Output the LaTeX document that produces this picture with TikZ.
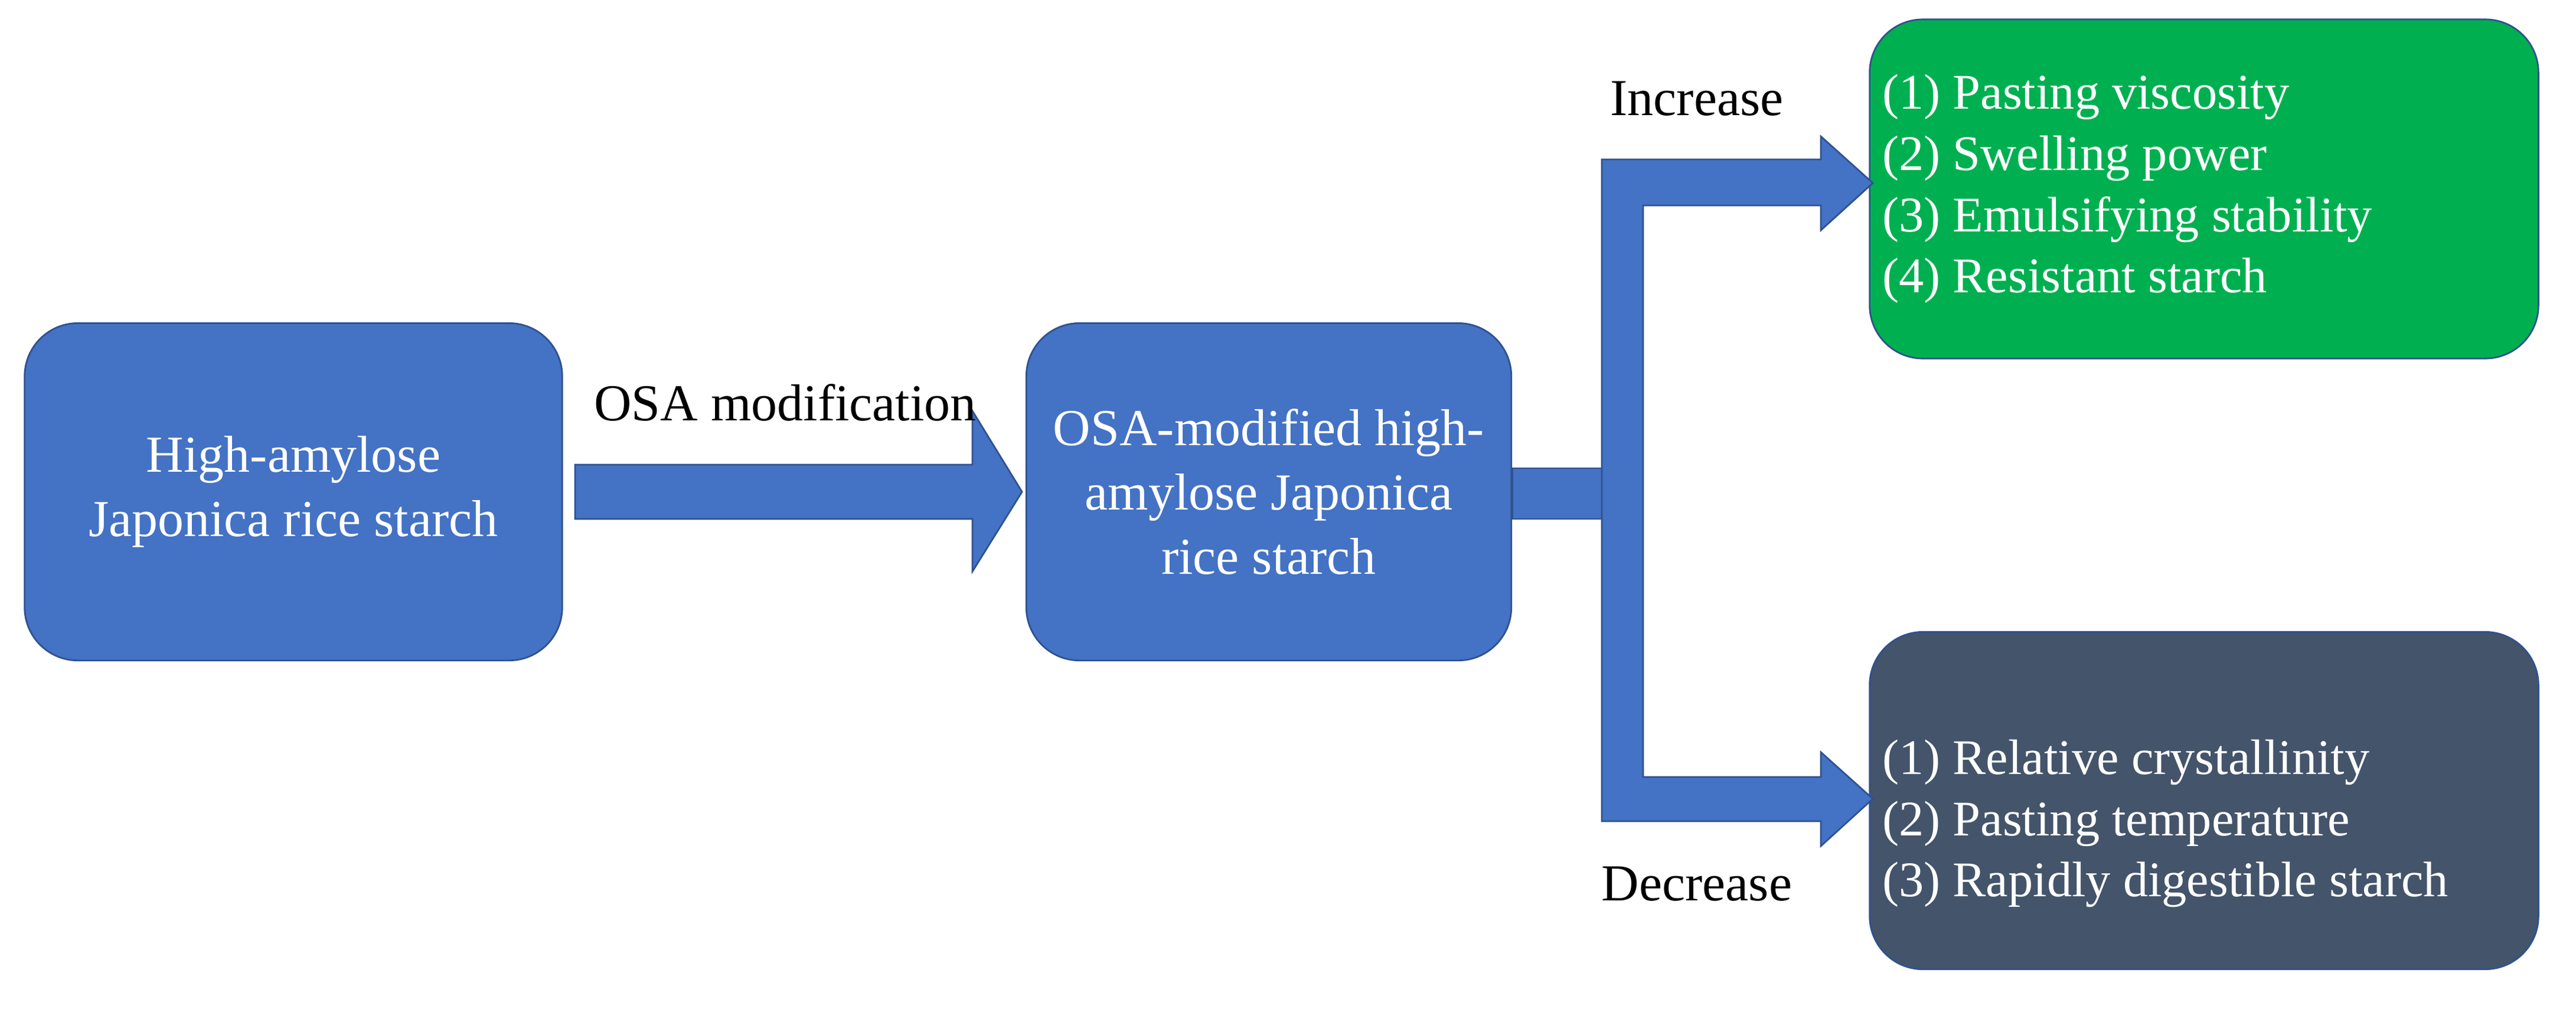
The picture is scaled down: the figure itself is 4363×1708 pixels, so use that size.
\documentclass[tikz,border=0pt]{standalone}
\usepackage{fontspec}
\setmainfont{Liberation Serif}
\usetikzlibrary{positioning}
\definecolor{boxblue}{HTML}{4472C4}
\definecolor{edgeblue}{HTML}{2F528F}
\definecolor{incgreen}{HTML}{00B050}
\definecolor{decgray}{HTML}{44546A}
\begin{document}
\begin{tikzpicture}[x=0.01cm,y=-0.01cm,
  box/.style={rounded corners=0.9cm,draw=edgeblue,thick,text=white,align=center,font=\fontsize{25}{31}\selectfont},
  res/.style={rounded corners=0.9cm,draw=edgeblue,thick,text=white,align=left,font=\fontsize{24}{29.5}\selectfont},
  blk/.style={fill=boxblue,draw=edgeblue,thick}]
\useasboundingbox (0,0) rectangle (4363,1708);
% boxes
\node (raw) [box,fill=boxblue,minimum width=9.1cm,minimum height=5.71cm] at (497,833) {High-amylose\\Japonica rice starch};
\node (osa) [box,fill=boxblue,minimum width=8.21cm,minimum height=5.71cm] at (2149,833) {OSA-modified high-\\amylose Japonica\\rice starch};
\node (inc) [res,fill=incgreen,minimum width=11.32cm,minimum height=5.74cm] at (3733,320) {};
\node (dec) [res,fill=decgray,minimum width=11.32cm,minimum height=5.71cm] at (3733,1356) {};
\node [res,draw=none,anchor=west] at (3175,320) {(1) Pasting viscosity\\(2) Swelling power\\(3) Emulsifying stability\\(4) Resistant starch};
\node [res,draw=none,anchor=west] at (3175,1395) {(1) Relative crystallinity\\(2) Pasting temperature\\(3) Rapidly digestible starch};
% arrows
\draw[blk] (974,787) -- (1647,787) -- (1647,696) -- (1731,833) -- (1647,968) -- (1647,879) -- (974,879) -- cycle;
\draw[blk] (osa.east |- 0,793) rectangle (2713,879);
\draw[blk] (2713,270) -- (3084,270) -- (3084,231) -- (3172,310) -- (3084,390) -- (3084,348)
  -- (2783,348) -- (2783,1316) -- (3084,1316) -- (3084,1274) -- (3172,1353) -- (3084,1433)
  -- (3084,1391) -- (2713,1391) -- cycle;
% labels
\node (lmod) [font=\fontsize{25}{30}\selectfont] at (1330,682) {OSA modification};
\node (linc) [font=\fontsize{25}{30}\selectfont] at (2874,167) {Increase};
\node (ldec) [font=\fontsize{25}{30}\selectfont] at (2874,1497) {Decrease};
\end{tikzpicture}
\end{document}
